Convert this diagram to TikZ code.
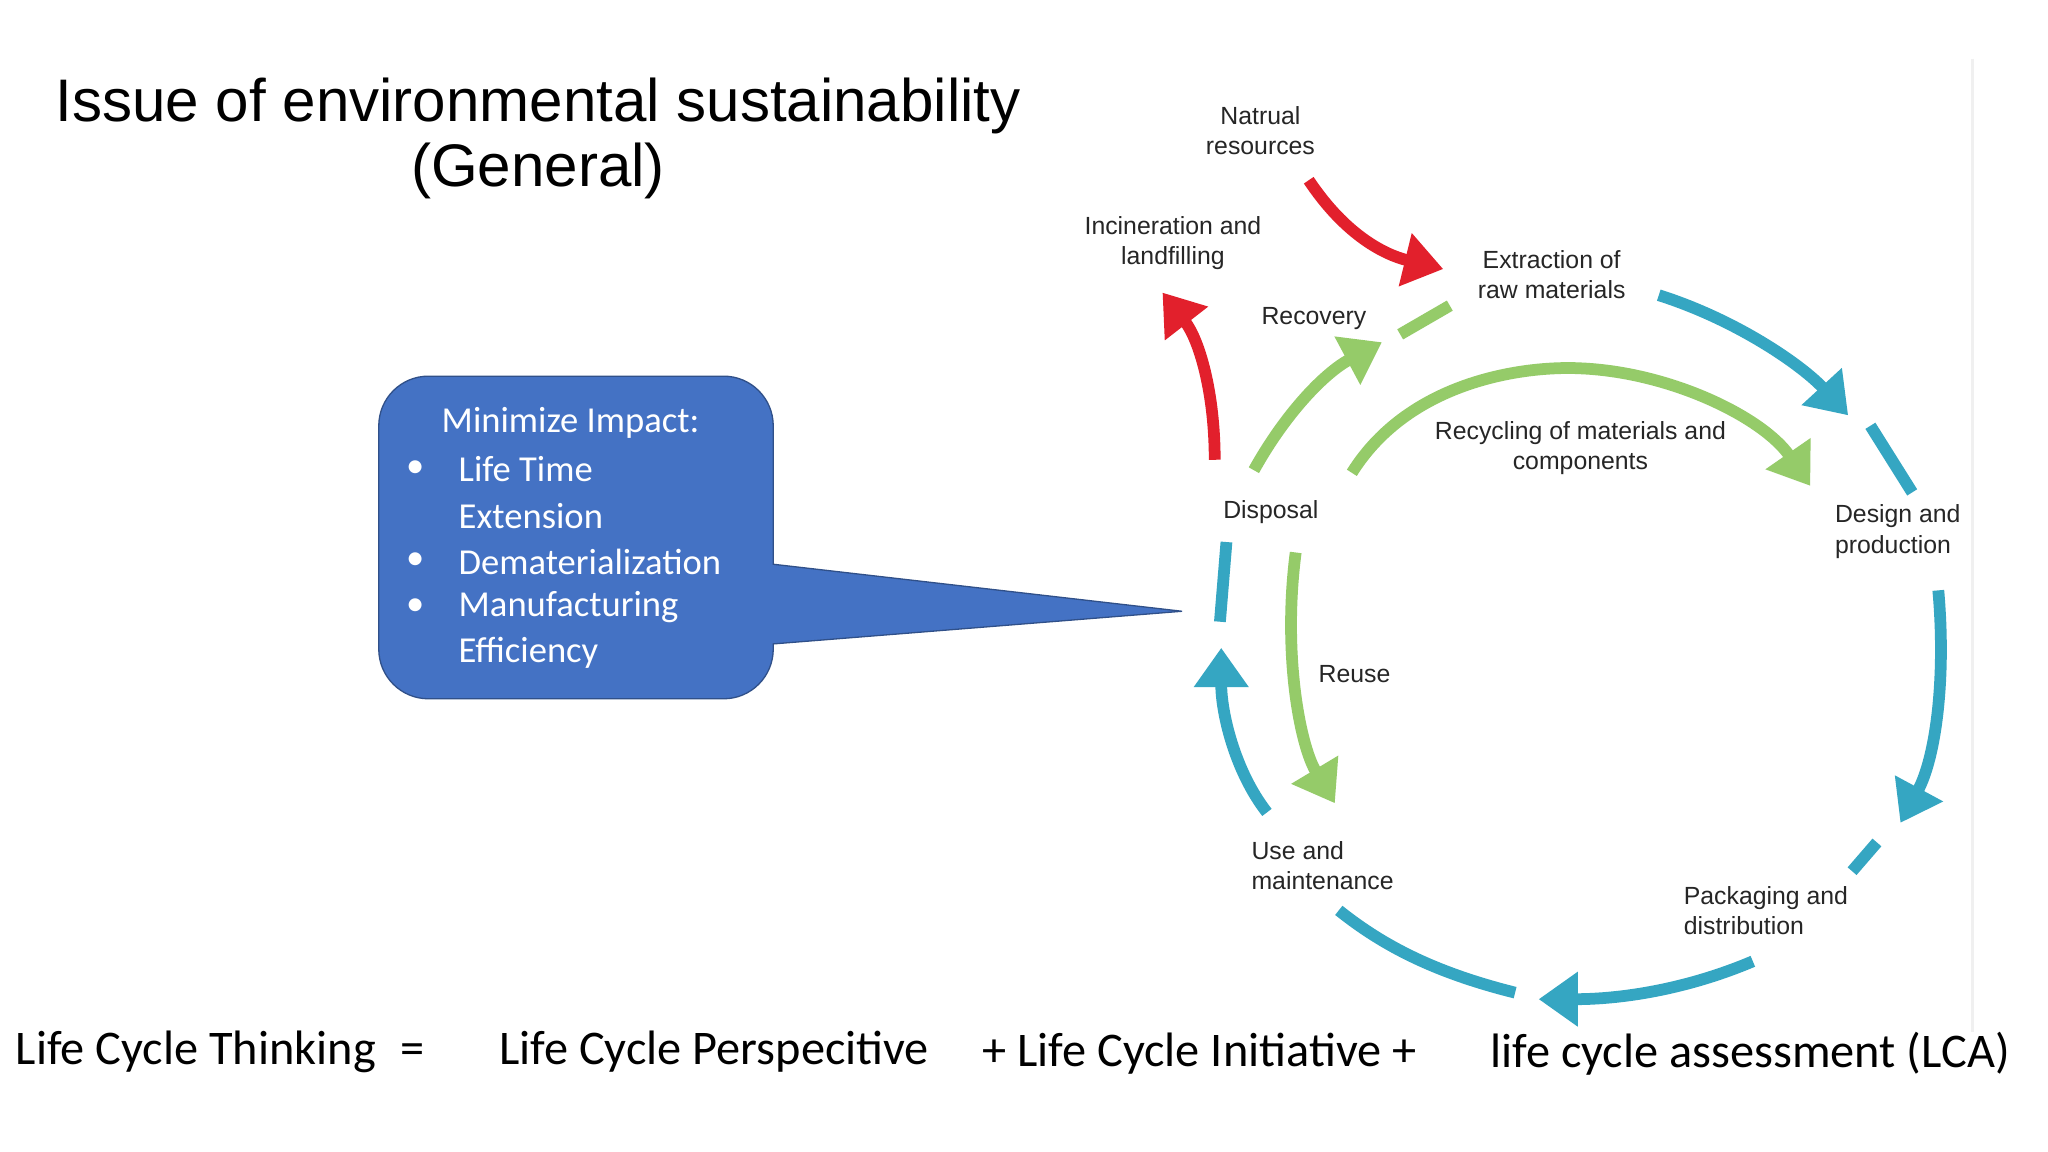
\documentclass[tikz,border=0pt]{standalone}
\usepackage{fontspec}
\setmainfont{Liberation Sans}
\newfontfamily\carfont{Carlito}
\usetikzlibrary{arrows.meta}
\definecolor{cblue}{HTML}{4472C4}
\definecolor{cred}{HTML}{E2202C}
\definecolor{cteal}{HTML}{35A6C2}
\definecolor{cgreen}{HTML}{95CB69}
\begin{document}
\begin{tikzpicture}[x=1pt,y=-1pt,
 lbl/.style={font=\fontsize{19}{23}\selectfont,text=black!85,align=center,inner sep=0},
 arr/.style={line width=9pt,-{Triangle[length=30pt,width=40pt]}},
 seg/.style={line width=9pt},
 bt/.style={font=\carfont\fontsize{37}{40}\selectfont,anchor=west,inner sep=0}]
\useasboundingbox (0,0) rectangle (1568,882);
\fill[white] (0,0) rectangle (1568,882);
\draw[black!6,line width=2pt] (1510,45) -- (1510,790);
% title
\node[font=\fontsize{46}{50}\selectfont,align=center] (title) at (412,106) {Issue of environmental sustainability\\(General)};
% callout
\draw[cblue!70!black,fill=cblue,line width=1pt] (592,493) [rounded corners=38]-- (592,535) -- (290,535) -- (290,288) -- (592,288) [sharp corners]-- (592,432) -- (905,468) -- cycle;
\node[font=\carfont\fontsize{28}{35}\selectfont,text=white,anchor=west,inner sep=0] (ci) at (338,324) {Minimize Impact:};
\foreach \y/\t [count=\i] in {359/Life Time,395/Extension,430/Dematerialization,465/Manufacturing,500/Efficiency}
  \node[font=\carfont\fontsize{28}{35}\selectfont,text=white,anchor=west,inner sep=0] (c\i) at (351,\y) {\t};
\foreach \y [count=\i] in {359,430,465}
  \node[font=\carfont\fontsize{28}{35}\selectfont,text=white,inner sep=0] (b\i) at (318,\y) {\textbullet};
% bottom
\node[bt] (l1) at (12,805) {Life Cycle Thinking\,\,\,=};
\node[bt] (l2) at (382,805) {Life Cycle Perspecitive};
\node[bt] (l3) at (752,807) {+ Life Cycle Initiative +};
\node[bt] (l4) at (1141,807) {life cycle assessment (LCA)};
% diagram labels
\node[lbl] (nat) at (965,100) {Natrual\\resources};
\node[lbl] (inc) at (898,186) {Incineration and\\landfilling};
\node[lbl] (ext) at (1188,210) {Extraction of\\raw materials};
\node[lbl] (rec) at (1006,244) {Recovery};
\node[lbl] (recy) at (1210,343) {Recycling of materials and\\components};
\node[lbl] (dis) at (973,392) {Disposal};
\node[lbl,align=left] (des) at (1453,407) {Design and\\production};
\node[lbl] (reu) at (1037,516) {Reuse};
\node[lbl,align=left,anchor=west] (use) at (958,663) {Use and\\maintenance};
\node[lbl,align=left,anchor=west] (pac) at (1289,697) {Packaging and\\distribution};
% red
\draw[cred,arr] (1002,138) .. controls (1030,180) and (1060,195) .. (1105,206);
\draw[cred,arr] (930,352) .. controls (930,300) and (918,260) .. (890,224);
% teal
\draw[cteal,arr] (1270,226) .. controls (1330,245) and (1380,280) .. (1415,318);
\draw[cteal,seg] (1432,326) -- (1464,377);
\draw[cteal,arr] (1484,452) .. controls (1490,520) and (1482,580) .. (1455,630);
\draw[cteal,seg] (1437,645) -- (1418,667);
\draw[cteal,arr] (1342,736) .. controls (1290,758) and (1240,765) .. (1178,765);
\draw[cteal,seg] (1160,760) .. controls (1100,745) and (1060,725) .. (1025,697);
\draw[cteal,arr] (970,622) .. controls (945,590) and (935,545) .. (935,496);
\draw[cteal,seg] (939,415) -- (934,476);
% green
\draw[cgreen,arr] (960,360) .. controls (985,315) and (1015,285) .. (1058,262);
\draw[cgreen,seg] (1072,256) -- (1110,234);
\draw[cgreen,arr] (1035,362) .. controls (1080,290) and (1170,280) .. (1210,282) .. controls (1280,285) and (1350,320) .. (1386,372);
\draw[cgreen,arr] (992,423) .. controls (982,500) and (995,570) .. (1022,615);
\end{tikzpicture}
\end{document}
